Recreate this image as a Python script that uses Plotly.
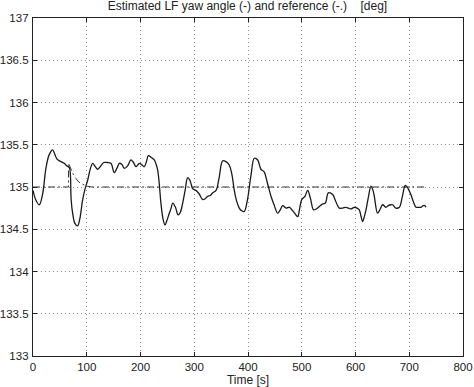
import plotly.graph_objects as go

# Estimated LF yaw angle [deg] vs time [s]
time_est = [0, 5, 11.8, 18, 24, 30, 36.6, 41, 44.7, 52, 58, 63, 67.6, 69.5, 71, 74, 78, 83, 87, 92.4,
            97, 101.7, 106, 111, 115, 120, 125, 131.5, 138, 145, 151, 156, 160.6, 165, 170, 176, 182,
            187, 191.6, 197.8, 203, 207, 211, 214.6, 220, 225.7, 229, 232, 235, 238, 242, 245.6, 249,
            253.6, 257, 260, 265, 270, 274, 278.5, 283, 287.8, 291, 294, 297, 303, 309, 315.7, 320, 325,
            330, 334, 340.5, 346, 353, 359, 365, 370, 374.5, 379, 383.8, 388, 393, 399, 405.6, 411.8,
            418, 424, 430, 436, 442.8, 449, 455, 460, 464.5, 470.7, 477, 483, 489, 492.5, 496, 500, 506,
            511, 516, 522, 527, 532.7, 539, 544, 549.5, 557.5, 562, 566, 570, 576, 582, 587, 591.6,
            597.8, 603, 607, 610, 613.4, 616, 619.5, 624, 628.8, 632, 635, 641, 646, 650.6, 656.7, 661,
            666, 669, 675.3, 681.5, 687, 692.7, 698, 703, 708, 712.6, 717, 721.9, 726, 729, 731]
yaw_est = [134.96, 134.85, 134.79, 134.92, 135.22, 135.38, 135.44, 135.38, 135.33, 135.3, 135.28, 135.25,
           135.23, 135.15, 134.85, 134.68, 134.57, 134.54, 134.62, 134.85, 134.98, 135.08, 135.2, 135.28,
           135.25, 135.21, 135.24, 135.29, 135.29, 135.28, 135.17, 135.22, 135.28, 135.27, 135.22,
           135.25, 135.32, 135.29, 135.24, 135.28, 135.26, 135.24, 135.3, 135.37, 135.35, 135.32, 135.27,
           135.2, 135.03, 134.81, 134.62, 134.55, 134.6, 134.69, 134.75, 134.81, 134.76, 134.67, 134.7,
           134.81, 134.96, 135.11, 135.09, 135.04, 134.98, 134.96, 134.92, 134.85, 134.86, 134.89,
           134.9, 134.93, 134.96, 135.1, 135.31, 135.3, 135.26, 135.15, 134.96, 134.83, 134.75, 134.72,
           134.71, 134.85, 135.14, 135.34, 135.32, 135.21, 135.18, 135.05, 134.89, 134.78, 134.69,
           134.73, 134.78, 134.75, 134.76, 134.72, 134.67, 134.65, 134.74, 134.85, 134.89, 134.96,
           134.87, 134.73, 134.74, 134.77, 134.8, 134.81, 134.93, 134.91, 134.85, 134.79, 134.75,
           134.75, 134.76, 134.75, 134.74, 134.76, 134.75, 134.73, 134.66, 134.59, 134.64, 134.73,
           134.88, 135.01, 134.97, 134.89, 134.69, 134.74, 134.79, 134.76, 134.78, 134.79, 134.79,
           134.75, 134.76, 134.88, 135.02, 134.98, 134.91, 134.82, 134.76, 134.76, 134.76, 134.78,
           134.78, 134.76]

# Reference yaw angle [deg]
time_ref = [0, 66, 66, 70, 75, 80, 85, 90, 95, 100, 110, 730]
yaw_ref = [135.0, 135.0, 135.28, 135.22, 135.15, 135.1, 135.06, 135.04, 135.02, 135.01, 135.0, 135.0]

x_ticks = [0, 100, 200, 300, 400, 500, 600, 700, 800]
y_ticks = [133, 133.5, 134, 134.5, 135, 135.5, 136, 136.5, 137]
y_tick_labels = ["133", "133.5", "134", "134.5", "135", "135.5", "136", "136.5", "137"]

FONT = "Liberation Sans, Arial, sans-serif"

fig = go.Figure()
fig.add_trace(go.Scatter(x=time_ref, y=yaw_ref, mode="lines",
                         line=dict(color="#333333", width=1, dash="7px,3px,2px,3px"), showlegend=False))
fig.add_trace(go.Scatter(x=time_est, y=yaw_est, mode="lines", line_shape="spline",
                         line=dict(color="#1a1a1a", width=1.3), showlegend=False))

axis_common = dict(showline=True, linecolor="#222222", linewidth=1.3, mirror="ticks",
                   ticks="inside", ticklen=4, tickcolor="#222222", automargin=False,
                   showgrid=True, gridcolor="#8a8a8a", griddash="1px,3px", gridwidth=1,
                   zeroline=False, tickfont=dict(family=FONT, size=11.5, color="#222222"))

fig.update_layout(
    width=474, height=387,
    margin=dict(l=33, r=11, t=18, b=31),
    paper_bgcolor="white", plot_bgcolor="white",
    title=dict(text="Estimated LF yaw angle (-) and reference (-.)    [deg]",
               x=0.522, xanchor="center", y=0.997, yanchor="top",
               font=dict(family=FONT, size=12, color="#222222")),
    xaxis=dict(range=[0, 800], tickvals=x_ticks, ticktext=[str(v) for v in x_ticks],
               ticklabelstandoff=0,
               title=dict(text="Time [s]", standoff=0,
                          font=dict(family=FONT, size=12, color="#222222")),
               **axis_common),
    yaxis=dict(range=[133, 137], tickvals=y_ticks, ticktext=y_tick_labels,
               ticklabelstandoff=1, **axis_common),
)

fig.write_html("out.html", config={"displayModeBar": False},
               post_script="document.body.style.margin='0';document.body.style.padding='0';")
